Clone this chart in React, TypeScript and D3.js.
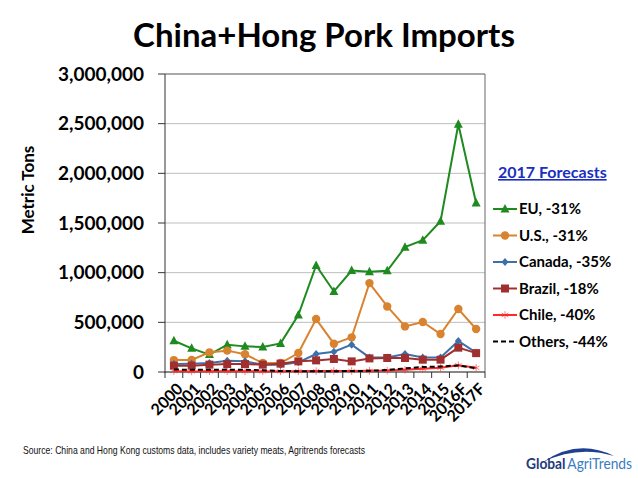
import React from "react";
import * as d3 from "d3";

// years on the category axis
const years = ["2000", "2001", "2002", "2003", "2004", "2005", "2006", "2007", "2008", "2009", "2010", "2011", "2012", "2013", "2014", "2015", "2016F", "2017F"];

// metric tons
const eu = [315000, 238000, 175000, 275000, 258000, 252000, 288000, 573000, 1073000, 811000, 1022000, 1009000, 1019000, 1257000, 1327000, 1518000, 2494000, 1701000];
const us = [120000, 122000, 198000, 215000, 178000, 90000, 90000, 191000, 533000, 285000, 349000, 895000, 660000, 459000, 503000, 382000, 634000, 433000];
const canada = [80000, 84000, 90000, 114000, 107000, 74000, 74000, 97000, 181000, 204000, 275000, 147000, 147000, 181000, 147000, 147000, 312000, 195000];
const brazil = [64000, 64000, 74000, 80000, 80000, 74000, 84000, 107000, 117000, 131000, 107000, 137000, 141000, 141000, 124000, 124000, 245000, 190000];
const chile = [8000, 6000, 7000, 8000, 7000, 6000, 7000, 8000, 9000, 10000, 10000, 12000, 14000, 22000, 32000, 42000, 68000, 42000];
const others = [25000, 22000, 22000, 24000, 22000, 18000, 10000, 8000, 8000, 8000, 10000, 12000, 20000, 36000, 50000, 56000, 66000, 37000];

const yTicks = [0, 500000, 1000000, 1500000, 2000000, 2500000, 3000000];

const series = [
  { name: "EU, -31%", values: eu, color: "#1f8a1f", marker: "triangle" },
  { name: "U.S., -31%", values: us, color: "#d9832e", marker: "circle" },
  { name: "Canada, -35%", values: canada, color: "#3e6fa8", marker: "diamond" },
  { name: "Brazil, -18%", values: brazil, color: "#a0302f", marker: "square" },
  { name: "Chile, -40%", values: chile, color: "#ff2a2a", marker: "star" },
  { name: "Others, -44%", values: others, color: "#000000", marker: "none" },
];

const W = 638;
const H = 478;
const plot = { left: 165, right: 485, top: 74, bottom: 372 };

function Marker({ type, x, y, color }: { type: string; x: number; y: number; color: string }) {
  if (type === "triangle") {
    return <path d={`M${x},${y - 5}L${x + 4.5},${y + 3.5}L${x - 4.5},${y + 3.5}Z`} fill={color} />;
  }
  if (type === "circle") return <circle cx={x} cy={y} r={4.2} fill={color} />;
  if (type === "diamond") {
    return <path d={`M${x},${y - 4}L${x + 3.5},${y}L${x},${y + 4}L${x - 3.5},${y}Z`} fill={color} />;
  }
  if (type === "square") return <rect x={x - 4} y={y - 4} width={8} height={8} fill={color} />;
  if (type === "star") {
    const s = d3.symbol(d3.symbolAsterisk, 40)();
    return <path d={s || ""} transform={`translate(${x},${y})`} stroke={color} strokeWidth={1} fill="none" opacity={0.6} />;
  }
  return null;
}

export default function App() {
  const x = d3.scaleBand().domain(years).range([plot.left, plot.right]);
  const y = d3.scaleLinear().domain([0, 3000000]).range([plot.bottom, plot.top]);
  const fmt = d3.format(",");
  const cx = (d: string) => (x(d) || 0) + x.bandwidth() / 2;

  const line = (vals: number[]) =>
    d3
      .line<number>()
      .x((_, i) => cx(years[i]))
      .y((v) => y(v))(vals) || "";

  const font = "Lato, 'Open Sans', sans-serif";

  return (
    <svg width={W} height={H} style={{ position: "absolute", left: 0, top: 0, background: "#fff" }} fontFamily={font}>
      <text x={324} y={47} textAnchor="middle" fontSize={33} fontWeight={700} fill="#000">
        China+Hong Pork Imports
      </text>

      {/* gridlines */}
      {yTicks.map((t) => (
        <line key={t} x1={plot.left} x2={plot.right} y1={y(t)} y2={y(t)} stroke={t === 3000000 ? "#555" : "#bdbdbd"} strokeWidth={1} />
      ))}
      <line x1={plot.right} x2={plot.right} y1={plot.top} y2={plot.bottom} stroke="#666" />

      {/* y axis */}
      <line x1={plot.left} x2={plot.left} y1={plot.top} y2={plot.bottom + 1} stroke="#333" />
      {yTicks.map((t) => (
        <g key={"yt" + t}>
          <line x1={plot.left - 7} x2={plot.left} y1={y(t)} y2={y(t)} stroke="#333" />
          <text x={144} y={y(t)} dy="0.35em" textAnchor="end" fontSize={19} fontWeight={700}>
            {fmt(t)}
          </text>
        </g>
      ))}
      <text transform={`translate(34,190) rotate(-90)`} textAnchor="middle" fontSize={17} fontWeight={700}>
        Metric Tons
      </text>

      {/* x axis */}
      <line x1={plot.left} x2={plot.right} y1={plot.bottom} y2={plot.bottom} stroke="#333" />
      {years.map((d) => (
        <line key={"xt" + d} x1={x(d) || 0} x2={x(d) || 0} y1={plot.bottom} y2={plot.bottom + 6} stroke="#333" />
      ))}
      <line x1={plot.right} x2={plot.right} y1={plot.bottom} y2={plot.bottom + 6} stroke="#333" />
      {years.map((d) => (
        <text key={"xl" + d} transform={`translate(${cx(d) + 6},${plot.bottom + 14}) rotate(-45)`} textAnchor="end" dy="0.35em" fontSize={16} fontWeight={700}>
          {d}
        </text>
      ))}

      {/* series */}
      {series.map((s) => (
        <g key={s.name}>
          <path d={line(s.values)} fill="none" stroke={s.color} strokeWidth={2} strokeDasharray={s.marker === "none" ? "5,3" : undefined} />
          {s.values.map((v, i) => (
            <Marker key={i} type={s.marker} x={cx(years[i])} y={y(v)} color={s.color} />
          ))}
        </g>
      ))}

      {/* legend */}
      <text x={498} y={178} fontSize={16} fontWeight={700} fill="#1a2fbf" textDecoration="underline">
        2017 Forecasts
      </text>
      {series.map((s, i) => {
        const ly = 209 + i * 26.5;
        return (
          <g key={"lg" + s.name}>
            <line x1={493} x2={517} y1={ly} y2={ly} stroke={s.color} strokeWidth={2} strokeDasharray={s.marker === "none" ? "5,3" : undefined} />
            {s.marker !== "none" && <Marker type={s.marker} x={505} y={ly} color={s.color} />}
            <text x={519} y={ly} dy="0.35em" fontSize={15} fontWeight={700}>
              {s.name}
            </text>
          </g>
        );
      })}

      {/* footer */}
      <text x={23} y={454} fontSize={11.5} textLength={342} lengthAdjust="spacingAndGlyphs" fontFamily="'Liberation Sans', Arial, sans-serif" fill="#111">
        Source:  China and Hong Kong customs data, includes variety meats, Agritrends forecasts
      </text>
      <path d="M543,462 Q578,438 614,456 Q578,445 543,462 Z" fill="#1f3f8f" />
      <text x={526} y={469} fontSize={15} fontFamily={font} textLength={106} lengthAdjust="spacingAndGlyphs">
        <tspan fontWeight={700} fill="#1f3b7a">Global</tspan>
        <tspan fill="#3a7cc0" dx={2}>AgriTrends</tspan>
      </text>
    </svg>
  );
}
